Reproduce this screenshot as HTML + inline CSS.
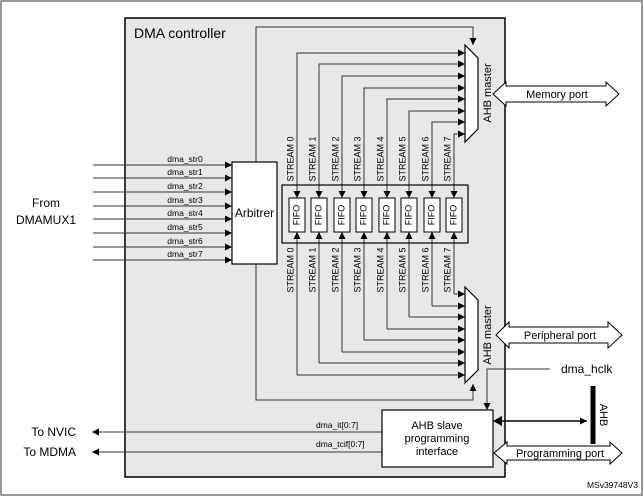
<!DOCTYPE html>
<html><head><meta charset="utf-8"><style>
html,body{margin:0;padding:0;background:#fff}
svg{display:block;font-family:"Liberation Sans",sans-serif}
</style></head><body>
<svg width="643" height="496" viewBox="0 0 643 496" xmlns="http://www.w3.org/2000/svg">
<defs>
<marker id="a" viewBox="0 0 10 10" refX="10" refY="5" markerWidth="7" markerHeight="7" markerUnits="userSpaceOnUse" orient="auto"><path d="M0,0L10,5L0,10z" fill="#000"/></marker>
</defs>
<rect x="1" y="1" width="641" height="494" fill="#fff" stroke="#777" stroke-width="1.5"/>
<rect x="125" y="18" width="380" height="459" fill="#e8e8e8" stroke="#000" stroke-width="1.5"/>
<text x="134" y="38" font-size="14">DMA controller</text>

<g stroke="#333" stroke-width="1" fill="none">
<!-- top arbitrer line -->
<path d="M256,162V27H473V45" marker-end="url(#a)"/>
<path d="M256,264V400H473V384" marker-end="url(#a)"/>
<!-- top streams -->
<path d="M297,185V53H465" marker-end="url(#a)"/>
<path d="M319,185V64H465" marker-end="url(#a)"/>
<path d="M342,185V76H465" marker-end="url(#a)"/>
<path d="M364,185V88H465" marker-end="url(#a)"/>
<path d="M387,185V99H465" marker-end="url(#a)"/>
<path d="M409,185V111H465" marker-end="url(#a)"/>
<path d="M432,185V122H465" marker-end="url(#a)"/>
<path d="M454,185V134H465" marker-end="url(#a)"/>
<!-- top into FIFO -->
<path d="M297,185V198" marker-end="url(#a)"/>
<path d="M319,185V198" marker-end="url(#a)"/>
<path d="M342,185V198" marker-end="url(#a)"/>
<path d="M364,185V198" marker-end="url(#a)"/>
<path d="M387,185V198" marker-end="url(#a)"/>
<path d="M409,185V198" marker-end="url(#a)"/>
<path d="M432,185V198" marker-end="url(#a)"/>
<path d="M454,185V198" marker-end="url(#a)"/>
<!-- bottom from FIFO -->
<path d="M297,375V232" marker-end="url(#a)"/>
<path d="M319,363V232" marker-end="url(#a)"/>
<path d="M342,352V232" marker-end="url(#a)"/>
<path d="M364,340V232" marker-end="url(#a)"/>
<path d="M387,329V232" marker-end="url(#a)"/>
<path d="M409,317V232" marker-end="url(#a)"/>
<path d="M432,306V232" marker-end="url(#a)"/>
<path d="M454,294V232" marker-end="url(#a)"/>
<path d="M297,375H465" marker-end="url(#a)"/>
<path d="M319,363H465" marker-end="url(#a)"/>
<path d="M342,352H465" marker-end="url(#a)"/>
<path d="M364,340H465" marker-end="url(#a)"/>
<path d="M387,329H465" marker-end="url(#a)"/>
<path d="M409,317H465" marker-end="url(#a)"/>
<path d="M432,306H465" marker-end="url(#a)"/>
<path d="M454,294H465" marker-end="url(#a)"/>
<!-- left inputs -->
<path d="M93,165H232" marker-end="url(#a)"/>
<path d="M93,178H232" marker-end="url(#a)"/>
<path d="M93,192H232" marker-end="url(#a)"/>
<path d="M93,206H232" marker-end="url(#a)"/>
<path d="M93,219H232" marker-end="url(#a)"/>
<path d="M93,233H232" marker-end="url(#a)"/>
<path d="M93,247H232" marker-end="url(#a)"/>
<path d="M93,260H232" marker-end="url(#a)"/>
<!-- outputs -->
<path d="M382,432H92" marker-end="url(#a)"/>
<path d="M382,452H92" marker-end="url(#a)"/>
<!-- hclk -->
<path d="M550,369H487V410" marker-end="url(#a)"/>
</g>
<!-- AHB bus -->
<line x1="593" y1="386" x2="593" y2="444" stroke="#000" stroke-width="5"/>
<line x1="500" y1="421" x2="587" y2="421" stroke="#000" stroke-width="1.5" marker-end="url(#a)"/>
<path d="M493,421l9,-5v10z" fill="#000"/>
<text x="603" y="415" font-size="11" transform="rotate(90 603 415)" text-anchor="middle" dominant-baseline="middle">AHB</text>
<text x="561" y="373" font-size="12">dma_hclk</text>

<!-- Arbitrer -->
<rect x="232" y="162" width="45" height="102" fill="#fff" stroke="#000" stroke-width="1.2"/>
<text x="254.5" y="217" font-size="12" text-anchor="middle">Arbitrer</text>
<!-- FIFO container -->
<rect x="282" y="185" width="186" height="58" fill="none" stroke="#000" stroke-width="1.2"/>
<g fill="#fff" stroke="#000" stroke-width="1">
<rect x="289" y="198" width="16" height="34"/><rect x="311" y="198" width="16" height="34"/>
<rect x="334" y="198" width="16" height="34"/><rect x="356" y="198" width="16" height="34"/>
<rect x="379" y="198" width="16" height="34"/><rect x="401" y="198" width="16" height="34"/>
<rect x="424" y="198" width="16" height="34"/><rect x="446" y="198" width="16" height="34"/>
</g>
<g font-size="9" text-anchor="middle" dominant-baseline="middle">
<text transform="translate(297,215) rotate(-90)">FIFO</text>
<text transform="translate(319,215) rotate(-90)">FIFO</text>
<text transform="translate(342,215) rotate(-90)">FIFO</text>
<text transform="translate(364,215) rotate(-90)">FIFO</text>
<text transform="translate(387,215) rotate(-90)">FIFO</text>
<text transform="translate(409,215) rotate(-90)">FIFO</text>
<text transform="translate(432,215) rotate(-90)">FIFO</text>
<text transform="translate(454,215) rotate(-90)">FIFO</text>
</g>
<g font-size="9" text-anchor="middle" dominant-baseline="middle">
<text transform="translate(291,159) rotate(-90)">STREAM 0</text>
<text transform="translate(313,159) rotate(-90)">STREAM 1</text>
<text transform="translate(336,159) rotate(-90)">STREAM 2</text>
<text transform="translate(358,159) rotate(-90)">STREAM 3</text>
<text transform="translate(381,159) rotate(-90)">STREAM 4</text>
<text transform="translate(403,159) rotate(-90)">STREAM 5</text>
<text transform="translate(426,159) rotate(-90)">STREAM 6</text>
<text transform="translate(448,159) rotate(-90)">STREAM 7</text>
<text transform="translate(291,270) rotate(-90)">STREAM 0</text>
<text transform="translate(313,270) rotate(-90)">STREAM 1</text>
<text transform="translate(336,270) rotate(-90)">STREAM 2</text>
<text transform="translate(358,270) rotate(-90)">STREAM 3</text>
<text transform="translate(381,270) rotate(-90)">STREAM 4</text>
<text transform="translate(403,270) rotate(-90)">STREAM 5</text>
<text transform="translate(426,270) rotate(-90)">STREAM 6</text>
<text transform="translate(448,270) rotate(-90)">STREAM 7</text>
</g>
<!-- AHB masters -->
<path d="M465,45L478,58V129L465,142Z" fill="#fff" stroke="#000" stroke-width="1.2"/>
<path d="M465,287L478,300V370L465,383Z" fill="#fff" stroke="#000" stroke-width="1.2"/>
<text transform="translate(488,93) rotate(-90)" font-size="11" text-anchor="middle" dominant-baseline="middle">AHB master</text>
<text transform="translate(488,335) rotate(-90)" font-size="11" text-anchor="middle" dominant-baseline="middle">AHB master</text>
<!-- ports -->
<path d="M493,94L506,82V86H606V82L619,94L606,106V102H506V106Z" fill="#fff" stroke="#000" stroke-width="1"/>
<text x="557" y="98" font-size="11" text-anchor="middle">Memory port</text>
<path d="M496,335L509,322V327H608V322L622,335L608,348V343H509V348Z" fill="#fff" stroke="#000" stroke-width="1"/>
<text x="560" y="339" font-size="11" text-anchor="middle">Peripheral port</text>
<path d="M494,453L507,442V446H610V442L622,453L610,464V460H507V464Z" fill="#fff" stroke="#000" stroke-width="1"/>
<text x="560" y="457" font-size="11" text-anchor="middle">Programming port</text>
<!-- AHB slave -->
<rect x="382" y="410" width="111" height="57" fill="#fff" stroke="#000" stroke-width="1.2"/>
<g font-size="11" text-anchor="middle">
<text x="437" y="429">AHB slave</text>
<text x="437" y="442">programming</text>
<text x="437" y="455">interface</text>
</g>
<text x="316" y="428" font-size="8.5">dma_it[0:7]</text>
<text x="316" y="447" font-size="8.5">dma_tcif[0:7]</text>
<g font-size="8.5" text-anchor="middle">
<text x="185" y="162">dma_str0</text><text x="185" y="175">dma_str1</text>
<text x="185" y="189">dma_str2</text><text x="185" y="203">dma_str3</text>
<text x="185" y="216">dma_str4</text><text x="185" y="230">dma_str5</text>
<text x="185" y="244">dma_str6</text><text x="185" y="257">dma_str7</text>
</g>
<text x="46" y="207" font-size="12" text-anchor="middle">From</text>
<text x="46" y="224" font-size="12" text-anchor="middle">DMAMUX1</text>
<text x="76" y="436" font-size="12" text-anchor="end">To NVIC</text>
<text x="76" y="456" font-size="12" text-anchor="end">To MDMA</text>
<text x="638" y="488" font-size="8.5" text-anchor="end">MSv39748V3</text>
</svg>
</body></html>
